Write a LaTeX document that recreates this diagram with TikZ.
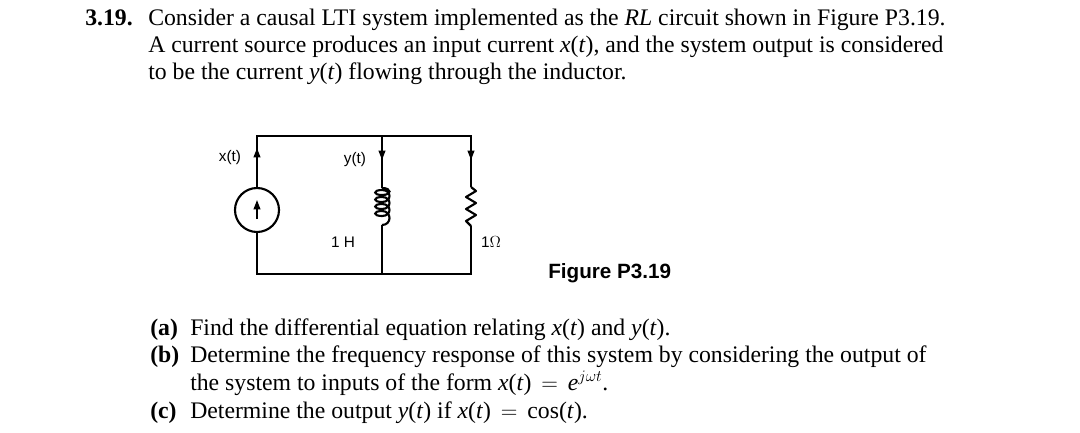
\documentclass[tikz,border=0pt]{standalone}
\usepackage{fontspec}
\setmainfont{Liberation Serif}
\setsansfont{Liberation Sans}
\usetikzlibrary{arrows.meta,decorations.pathmorphing}
\begin{document}
\begin{tikzpicture}[x=0.75pt,y=-0.75pt,
  txt/.style={anchor=base west,inner sep=0,font=\fontsize{17.8}{20}\selectfont},
  lbl/.style={inner sep=0,font=\sffamily\fontsize{11.5}{13}\selectfont},
  wire/.style={line width=1.6pt},
  arr/.style={-{Triangle[length=7pt,width=5pt]},line width=1.3pt}]
\useasboundingbox (0,0) rectangle (1080,432);
\node[txt] (l1) at (85,25) {\textbf{3.19.}};
\node[txt] (l1b) at (148,25) {Consider a causal LTI system implemented as the \textit{RL} circuit shown in Figure P3.19.};
\node[txt] (l2) at (148,52) {A current source produces an input current \textit{x}(\textit{t}), and the system output is considered};
\node[txt] (l3) at (148,79) {to be the current \textit{y}(\textit{t}) flowing through the inductor.};
\node[txt] (qa) at (150,335) {\textbf{(a)}};
\node[txt] (qat) at (190,335) {Find the differential equation relating \textit{x}(\textit{t}) and \textit{y}(\textit{t}).};
\node[txt] (qb) at (150,362) {\textbf{(b)}};
\node[txt] (qbt) at (190,362) {Determine the frequency response of this system by considering the output of};
\node[txt] (qb2) at (190,390) {the system to inputs of the form \textit{x}(\textit{t}) \,$=$\, \textit{e}$^{j\omega t}$.};
\node[txt] (qc) at (150,418) {\textbf{(c)}};
\node[txt] (qct) at (190,418) {Determine the output \textit{y}(\textit{t}) if \textit{x}(\textit{t}) \,$=$\, cos(\textit{t}).};
\node[anchor=base west,inner sep=0,font=\sffamily\bfseries\fontsize{15.5}{17}\selectfont] (fig) at (548,278) {Figure P3.19};
% circuit
\coordinate (tl) at (257,136); \coordinate (tm) at (382,136); \coordinate (tr) at (471,136);
\coordinate (bl) at (257,274); \coordinate (bm) at (382,274); \coordinate (br) at (471,274);
\node[draw,circle,line width=1.6pt,minimum size=44*0.75pt,inner sep=0] (src) at (257,210) {};
\draw[wire] (src.north) -- (tl) -- (tr) -- (471,187);
\draw[wire] (src.south) -- (bl) -- (br) -- (471,226);
\draw[wire] (tm) -- (382,188);
\draw[wire] (382,225) -- (bm);
\draw[wire] (382,188) .. controls (392,188) and (392,195) .. (382,195) .. controls (373,195) and (373,190) .. (382,190)
  .. controls (392,190) and (392,202) .. (382,202) .. controls (373,202) and (373,197) .. (382,197)
  .. controls (392,197) and (392,209) .. (382,209) .. controls (373,209) and (373,204) .. (382,204)
  .. controls (392,204) and (392,216) .. (382,216) .. controls (373,216) and (373,211) .. (382,211)
  .. controls (392,211) and (392,225) .. (382,225);
\draw[wire,line join=round] (471,187) -- (476,191) -- (466,197) -- (476,203) -- (466,209) -- (476,215) -- (466,221) -- (471,226);
\draw[arr] (257,219) -- (257,200);
\draw[arr] (257,166) -- (257,148);
\draw[arr] (382,142) -- (382,160);
\draw[arr] (471,142) -- (471,160);
\node[lbl] (xl) at (230,158) {x(t)};
\node[lbl] (yl) at (355,160) {y(t)};
\node[lbl] (hl) at (343,242) {1 H};
\node[lbl] (rl) at (491,242) {1$\Omega$};
\end{tikzpicture}
\end{document}
